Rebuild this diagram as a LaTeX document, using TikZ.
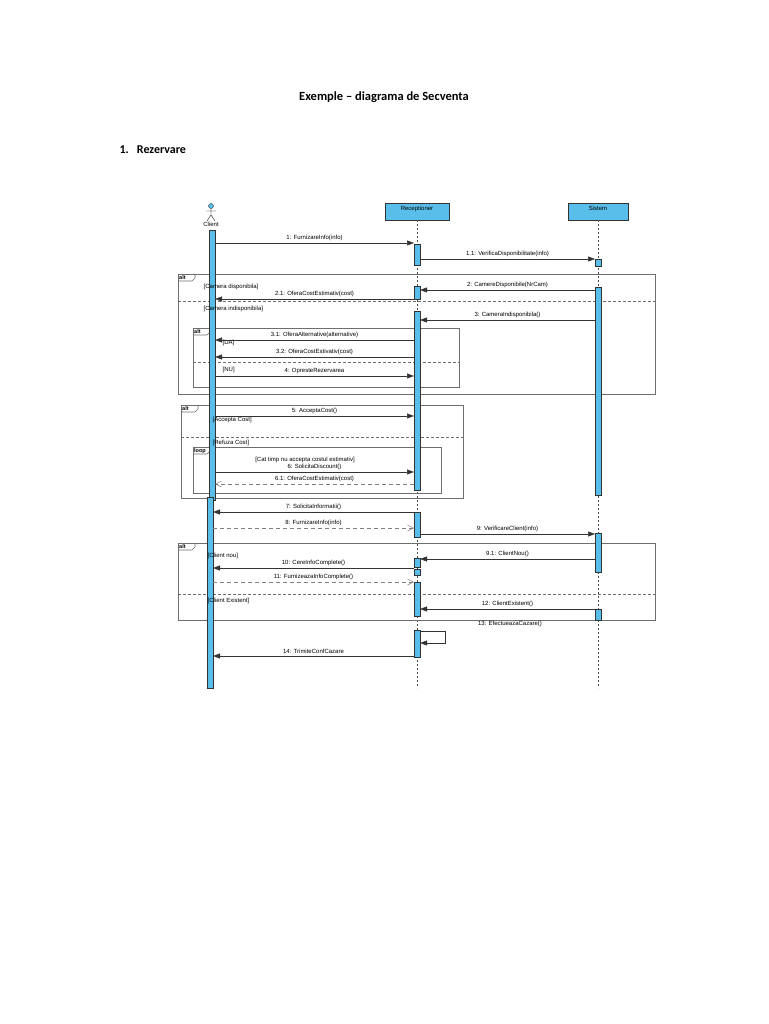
\documentclass[tikz,border=0pt]{standalone}
\usepackage{fontspec}
\setmainfont{Liberation Sans}
\newfontfamily\titlef{Carlito}
\usetikzlibrary{arrows.meta}
\definecolor{bar}{RGB}{90,190,235}
\definecolor{frm}{RGB}{110,110,110}
\begin{document}
\begin{tikzpicture}[x=1pt,y=-1pt,
  t/.style={font=\fontsize{6}{7}\selectfont,inner sep=0.5pt},
  act/.style={draw=black!80,fill=bar,line width=0.5pt},
  life/.style={draw=black!70,dash pattern=on 2pt off 2pt,line width=0.5pt},
  frame/.style={draw=frm,line width=0.6pt},
  div/.style={draw=frm,dash pattern=on 3pt off 2pt,line width=0.5pt},
  call/.style={draw=black!80,line width=0.5pt,-{Triangle[length=7pt,width=5pt]}},
  ret/.style={draw=black!50,line width=0.5pt,dash pattern=on 4pt off 3pt,-{Straight Barb[length=6pt,width=6pt]}},
  tag/.style={font=\fontsize{5.5}{6}\selectfont\bfseries,inner sep=1pt,anchor=north west}]
\useasboundingbox (0,0) rectangle (768,1024);
\node[font=\titlef\bfseries\fontsize{12.5}{14}\selectfont] (title) at (384,97) {Exemple – diagrama de Secventa};
\node[font=\titlef\bfseries\fontsize{12}{14}\selectfont,anchor=west] (sec) at (116,150) {1.\ \ \ Rezervare};
% lifeline heads
\node[act,minimum width=64pt,minimum height=17pt,inner sep=0pt,anchor=north] (rec) at (417,203) {};
\node[t,anchor=north] (rect) at (417,205) {Receptioner};
\node[act,minimum width=60pt,minimum height=17pt,inner sep=0pt,anchor=north] (sis) at (598,203) {};
\node[t,anchor=north] (sist) at (598,205) {Sistem};
% actor
\draw[draw=black!80,fill=bar,line width=0.4pt] (211,206) circle (2.5);
\draw[line width=0.4pt] (211,208.5) -- (211,215) (206,211) -- (216,211) (211,215) -- (207,221) (211,215) -- (215,221);
\node[t,anchor=north] (cli) at (211,221) {Client};
% lifelines
\draw[life] (417,220) -- (417,688);
\draw[life] (598,220) -- (598,688);
% frames
\draw[frame] (178,274) rectangle (655,394);
\draw[div] (178,301) -- (655,301);
\draw[frame] (193,328) rectangle (459,387);
\draw[div] (193,362) -- (459,362);
\draw[frame] (181,405) rectangle (463,498);
\draw[div] (181,437) -- (463,437);
\draw[frame] (193,447) rectangle (441,493);
\draw[frame] (178,543) rectangle (655,620);
\draw[div] (178,594) -- (655,594);
\foreach \x/\y/\l in {178/274/alt,193/328/alt,181/405/alt,193/447/loop,178/543/alt}{
  \draw[frame] (\x,\y+7) -- (\x+14,\y+7) -- (\x+17,\y+4) -- (\x+17,\y);
  \node[tag] at (\x,\y) {\l};}
% activations
\draw[act] (209,230) rectangle (215,500);
\draw[act] (207,497) rectangle (213,688);
\foreach \a/\b in {244/265,286/299,311/490,512/537,558/567,569/575,582/616,630/657}
  \draw[act] (414,\a) rectangle (420,\b);
\foreach \a/\b in {259/266,287/495,533/572,609/620}
  \draw[act] (595,\a) rectangle (601,\b);
% guards
\foreach \x/\y/\s in {203/287/{[Camera disponibila]},203/309/{[Camera indisponibila]},222/343/{[DA]},222/370/{[NU]},212/420/{[Accepta Cost]},212/443/{[Refuza Cost]},207/556/{[Client nou]},207/601/{[Client Existent]}}
  \node[t,anchor=west] at (\x,\y) {\s};
% messages
\foreach \y/\xa/\xb/\l/\s in {
 243/215/414/{1: FurnizareInfo(info)}/call,
 259/420/595/{1.1: VerificaDisponibilitate(info)}/call,
 290/595/420/{2: CamereDisponibile(NrCam)}/call,
 299/414/215/{2.1: OferaCostEstimativ(cost)}/call,
 320/595/420/{3: CameraIndisponibila()}/call,
 340/414/215/{3.1: OferaAlternative(alternative)}/call,
 357/414/215/{3.2: OferaCostEstivativ(cost)}/call,
 376/215/414/{4: OpresteRezervarea}/call,
 416/215/414/{5: AcceptaCost()}/call,
 472/215/414/{6: SolicitaDiscount()}/call,
 484/414/215/{6.1: OferaCostEstimativ(cost)}/ret,
 512/414/213/{7: SolicitaInformatii()}/call,
 528/213/414/{8: FurnizareInfo(info)}/ret,
 534/420/595/{9: VerificareClient(info)}/call,
 559/595/420/{9.1: ClientNou()}/call,
 568/414/213/{10: CereInfoComplete()}/call,
 582/213/414/{11: FurnizeazaInfoComplete()}/ret,
 609/595/420/{12: ClientExistent()}/call,
 656/414/213/{14: TrimiteConfCazare}/call}{
  \coordinate (p) at (\xa,\y); \coordinate (q) at (\xb,\y);
  \draw[\s] (p) -- node[t,above=1.5pt] {\l} (q);}
\node[t] (cat) at (305,460) {[Cat timp nu accepta costul estimativ]};
% self message
\coordinate (s1) at (420,631); \coordinate (s2) at (445,631); \coordinate (s3) at (445,643); \coordinate (s4) at (420,643);
\draw[call] (s1) -- (s2) -- (s3) -- (s4);
\node[t] (m13) at (510,624) {13: EfectueazaCazare()};
\end{tikzpicture}
\end{document}
